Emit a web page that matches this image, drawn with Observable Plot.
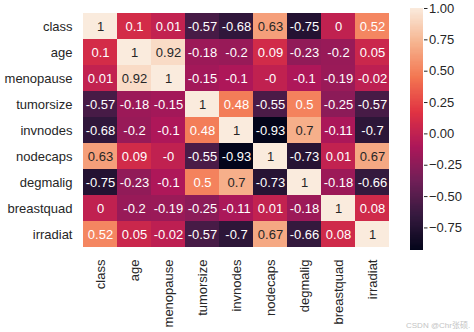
<!DOCTYPE html>
<html>
<head>
<meta charset="utf-8">
<script src="https://cdn.jsdelivr.net/npm/d3@7"></script>
<script src="https://cdn.jsdelivr.net/npm/@observablehq/plot@0.6"></script>
<style>
  body { margin: 0; background: #fff; }
  #wrap { position: relative; width: 474px; height: 332px; overflow: hidden; font-family: "Liberation Sans", Arial, sans-serif; }
  #wrap svg { position: absolute; top: 0; font-family: "Liberation Sans", Arial, sans-serif; }
  #mark { position: absolute; left: 406px; top: 319px; font-size: 8px; color: #c4c4c4; font-family: "Liberation Sans", "Noto Sans CJK SC", sans-serif; white-space: nowrap; }
</style>
</head>
<body>
<div id="wrap"><div id="mark">CSDN @Chr张硕.</div></div>
<script>
// ---- data ----
const labels = ["class", "age", "menopause", "tumorsize", "invnodes", "nodecaps", "degmalig", "breastquad", "irradiat"];
const corr = [
  [1, 0.1, 0.01, -0.57, -0.68, 0.63, -0.75, 0, 0.52],
  [0.1, 1, 0.92, -0.18, -0.2, 0.09, -0.23, -0.2, 0.05],
  [0.01, 0.92, 1, -0.15, -0.1, -0, -0.1, -0.19, -0.02],
  [-0.57, -0.18, -0.15, 1, 0.48, -0.55, 0.5, -0.25, -0.57],
  [-0.68, -0.2, -0.1, 0.48, 1, -0.93, 0.7, -0.11, -0.7],
  [0.63, 0.09, -0, -0.55, -0.93, 1, -0.73, 0.01, 0.67],
  [-0.75, -0.23, -0.1, 0.5, 0.7, -0.73, 1, -0.18, -0.66],
  [0, -0.2, -0.19, -0.25, -0.11, 0.01, -0.18, 1, 0.08],
  [0.52, 0.05, -0.02, -0.57, -0.7, 0.67, -0.66, 0.08, 1]
];
const colorbarTicks = [-0.75, -0.5, -0.25, 0, 0.25, 0.5, 0.75, 1];
const rocketStops = ["#03051a", "#35193e", "#701f57", "#ad1759", "#e13342", "#f37651", "#f6b48f", "#faebdd"];

// ---- build table ----
const cells = [];
labels.forEach((r, i) => labels.forEach((c, j) => cells.push({row: r, col: c, value: corr[i][j]})));
const vmin = d3.min(cells, d => d.value), vmax = d3.max(cells, d => d.value);
const rocket = d3.piecewise(d3.interpolateRgb, rocketStops);
const colorOf = v => rocket((v - vmin) / (vmax - vmin));
function lum(c) {
  const rgb = d3.rgb(c);
  const f = x => { x /= 255; return x <= 0.03928 ? x / 12.92 : Math.pow((x + 0.055) / 1.055, 2.4); };
  return 0.2126 * f(rgb.r) + 0.7152 * f(rgb.g) + 0.0722 * f(rgb.b);
}
const fmt = v => (Object.is(v, -0) ? "-0" : String(v));
const colorScale = {type: "linear", domain: [vmin, vmax], interpolate: () => rocket};
const txt = "#262626";
const FS = 13;

const wrap = document.getElementById("wrap");

const main = Plot.plot({
  width: 474,
  height: 332,
  marginLeft: 80,
  marginRight: 83,
  marginTop: 9,
  marginBottom: 82,
  style: {fontSize: FS + "px", color: txt, fontFamily: "'Liberation Sans', Arial, sans-serif", background: "transparent"},
  x: {domain: labels, padding: 0, label: null},
  y: {domain: labels, padding: 0, label: null},
  color: colorScale,
  marks: [
    Plot.cell(cells, {x: "col", y: "row", fill: "value"}),
    Plot.text(cells, {
      x: "col", y: "row",
      text: d => fmt(d.value),
      fill: d => (lum(colorOf(d.value)) > 0.408 ? txt : "#ffffff"),
      fontSize: FS
    }),
    Plot.axisY({tickSize: 0, tickPadding: 8, label: null, fontSize: FS, fill: txt}),
    Plot.axisX({tickSize: 0, tickPadding: 9, tickRotate: -90, label: null, fontSize: FS, fill: txt})
  ]
});
main.style.left = "0px";
wrap.appendChild(main);

const steps = d3.range(0, 200).map(i => {
  const a = vmin + (vmax - vmin) * i / 200, b = vmin + (vmax - vmin) * (i + 1) / 200;
  return {y1: a, y2: b, v: (a + b) / 2};
});
const bar = Plot.plot({
  width: 64,
  height: 332,
  marginLeft: 0,
  marginRight: 51,
  marginTop: 8,
  marginBottom: 82,
  style: {fontSize: FS + "px", color: txt, fontFamily: "'Liberation Sans', Arial, sans-serif", background: "transparent"},
  y: {domain: [vmin, vmax], label: null},
  color: colorScale,
  marks: [
    Plot.rect(steps, {y1: "y1", y2: "y2", fill: "v", shapeRendering: "crispEdges"}),
    Plot.axisY({anchor: "right", ticks: colorbarTicks, tickFormat: d3.format(".2f"), tickSize: 3.5, tickPadding: 2, label: null, fontSize: FS, fill: txt})
  ]
});
bar.style.left = "410px";
wrap.appendChild(bar);
</script>
</body>
</html>
